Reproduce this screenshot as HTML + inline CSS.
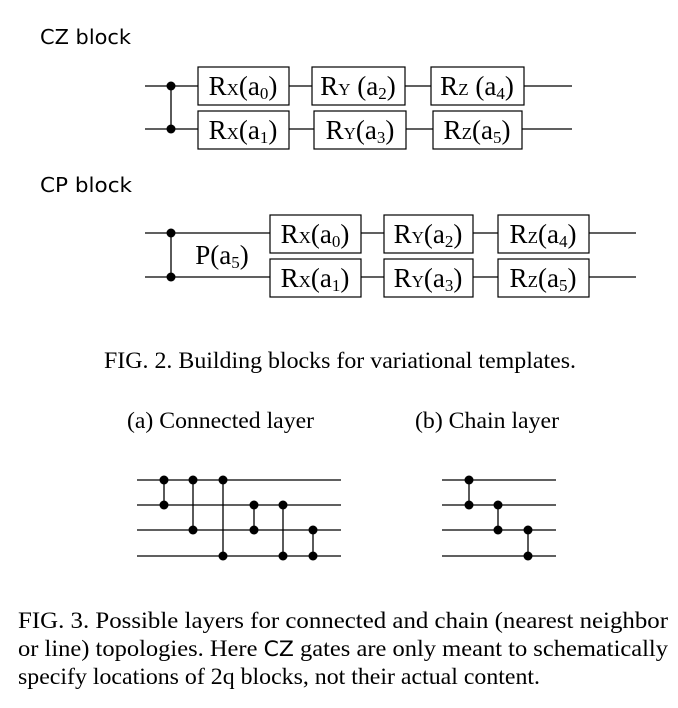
<!DOCTYPE html>
<html><head><meta charset="utf-8"><style>
html,body{margin:0;padding:0;background:#fff;}
svg{display:block;}
.s{font-family:"DejaVu Sans","Liberation Sans",sans-serif;font-size:20px;}
.r{font-family:"Liberation Serif",serif;}
.g{font-family:"Liberation Serif",serif;font-size:27px;text-anchor:middle;}
.sub{font-size:17px;}
</style></head><body>
<svg width="678" height="708" viewBox="0 0 678 708" xmlns="http://www.w3.org/2000/svg">
<text x="40" y="44" class="s" textLength="91" lengthAdjust="spacingAndGlyphs">CZ block</text>
<g stroke="#000" stroke-width="1.3" fill="none">
<line x1="145" y1="86" x2="572" y2="86"/><line x1="145" y1="129" x2="572" y2="129"/>
<line x1="171" y1="86" x2="171" y2="129"/>
</g>
<circle cx="171" cy="86" r="4.5"/><circle cx="171" cy="129" r="4.5"/>
<g fill="#fff" stroke="#000" stroke-width="1.2">
<rect x="198" y="67" width="91" height="38"/><rect x="198" y="111" width="91" height="38"/>
<rect x="312" y="67" width="93" height="38"/><rect x="314" y="111" width="92" height="38"/>
<rect x="431" y="67" width="93" height="38"/><rect x="433" y="111" width="89" height="38"/>
</g>
<g class="g">
<text x="243" y="95">R<tspan class="sub">X</tspan>(a<tspan class="sub" dy="4">0</tspan><tspan dy="-4">)</tspan></text>
<text x="243" y="139">R<tspan class="sub">X</tspan>(a<tspan class="sub" dy="4">1</tspan><tspan dy="-4">)</tspan></text>
<text x="358" y="95">R<tspan class="sub">Y</tspan> (a<tspan class="sub" dy="4">2</tspan><tspan dy="-4">)</tspan></text>
<text x="360" y="139">R<tspan class="sub">Y</tspan>(a<tspan class="sub" dy="4">3</tspan><tspan dy="-4">)</tspan></text>
<text x="477" y="95">R<tspan class="sub">Z</tspan> (a<tspan class="sub" dy="4">4</tspan><tspan dy="-4">)</tspan></text>
<text x="477" y="139">R<tspan class="sub">Z</tspan>(a<tspan class="sub" dy="4">5</tspan><tspan dy="-4">)</tspan></text>
</g>

<text x="40" y="192" class="s" textLength="92" lengthAdjust="spacingAndGlyphs">CP block</text>
<g stroke="#000" stroke-width="1.3" fill="none">
<line x1="145" y1="233" x2="636" y2="233"/><line x1="145" y1="277" x2="636" y2="277"/>
<line x1="171" y1="233" x2="171" y2="277"/>
</g>
<circle cx="171" cy="233" r="4.5"/><circle cx="171" cy="277" r="4.5"/>
<text x="222" y="264" class="g">P(a<tspan class="sub" dy="4">5</tspan><tspan dy="-4">)</tspan></text>
<g fill="#fff" stroke="#000" stroke-width="1.2">
<rect x="270" y="215" width="91" height="38"/><rect x="270" y="259" width="91" height="38"/>
<rect x="384" y="215" width="89" height="38"/><rect x="384" y="259" width="89" height="38"/>
<rect x="498" y="215" width="91" height="38"/><rect x="498" y="259" width="91" height="38"/>
</g>
<g class="g">
<text x="315" y="243">R<tspan class="sub">X</tspan>(a<tspan class="sub" dy="4">0</tspan><tspan dy="-4">)</tspan></text>
<text x="315" y="287">R<tspan class="sub">X</tspan>(a<tspan class="sub" dy="4">1</tspan><tspan dy="-4">)</tspan></text>
<text x="428" y="243">R<tspan class="sub">Y</tspan>(a<tspan class="sub" dy="4">2</tspan><tspan dy="-4">)</tspan></text>
<text x="428" y="287">R<tspan class="sub">Y</tspan>(a<tspan class="sub" dy="4">3</tspan><tspan dy="-4">)</tspan></text>
<text x="543" y="243">R<tspan class="sub">Z</tspan>(a<tspan class="sub" dy="4">4</tspan><tspan dy="-4">)</tspan></text>
<text x="543" y="287">R<tspan class="sub">Z</tspan>(a<tspan class="sub" dy="4">5</tspan><tspan dy="-4">)</tspan></text>
</g>

<text x="104" y="368" class="r" font-size="23" textLength="472" lengthAdjust="spacingAndGlyphs">FIG. 2. Building blocks for variational templates.</text>
<text x="127" y="428" class="r" font-size="23" textLength="187" lengthAdjust="spacingAndGlyphs">(a) Connected layer</text>
<text x="415" y="428" class="r" font-size="23" textLength="144" lengthAdjust="spacingAndGlyphs">(b) Chain layer</text>

<g stroke="#000" stroke-width="1.3">
<line x1="137" y1="480" x2="341" y2="480"/><line x1="137" y1="505" x2="341" y2="505"/>
<line x1="137" y1="530" x2="341" y2="530"/><line x1="137" y1="556" x2="341" y2="556"/>
<line x1="164" y1="480" x2="164" y2="505"/><line x1="193" y1="480" x2="193" y2="530"/>
<line x1="223" y1="480" x2="223" y2="556"/><line x1="254" y1="505" x2="254" y2="530"/>
<line x1="283" y1="505" x2="283" y2="556"/><line x1="313" y1="530" x2="313" y2="556"/>
<line x1="442" y1="480" x2="556" y2="480"/><line x1="442" y1="505" x2="556" y2="505"/>
<line x1="442" y1="530" x2="556" y2="530"/><line x1="442" y1="556" x2="556" y2="556"/>
<line x1="469" y1="480" x2="469" y2="505"/><line x1="498" y1="505" x2="498" y2="530"/>
<line x1="528" y1="530" x2="528" y2="556"/>
</g>
<g>
<circle cx="164" cy="480" r="4.5"/><circle cx="164" cy="505" r="4.5"/>
<circle cx="193" cy="480" r="4.5"/><circle cx="193" cy="530" r="4.5"/>
<circle cx="223" cy="480" r="4.5"/><circle cx="223" cy="556" r="4.5"/>
<circle cx="254" cy="505" r="4.5"/><circle cx="254" cy="530" r="4.5"/>
<circle cx="283" cy="505" r="4.5"/><circle cx="283" cy="556" r="4.5"/>
<circle cx="313" cy="530" r="4.5"/><circle cx="313" cy="556" r="4.5"/>
<circle cx="469" cy="480" r="4.5"/><circle cx="469" cy="505" r="4.5"/>
<circle cx="498" cy="505" r="4.5"/><circle cx="498" cy="530" r="4.5"/>
<circle cx="528" cy="530" r="4.5"/><circle cx="528" cy="556" r="4.5"/>
</g>

<g class="r" font-size="23.5">
<text x="18" y="628" textLength="650" lengthAdjust="spacingAndGlyphs">FIG. 3.  Possible layers for connected and chain (nearest neighbor</text>
<text x="18" y="656" textLength="650" lengthAdjust="spacingAndGlyphs">or line) topologies.  Here <tspan font-family="DejaVu Sans, sans-serif" font-size="21">CZ</tspan> gates are only meant to schematically</text>
<text x="18" y="684" textLength="522" lengthAdjust="spacingAndGlyphs">specify locations of 2q blocks, not their actual content.</text>
</g>
</svg>
</body></html>
